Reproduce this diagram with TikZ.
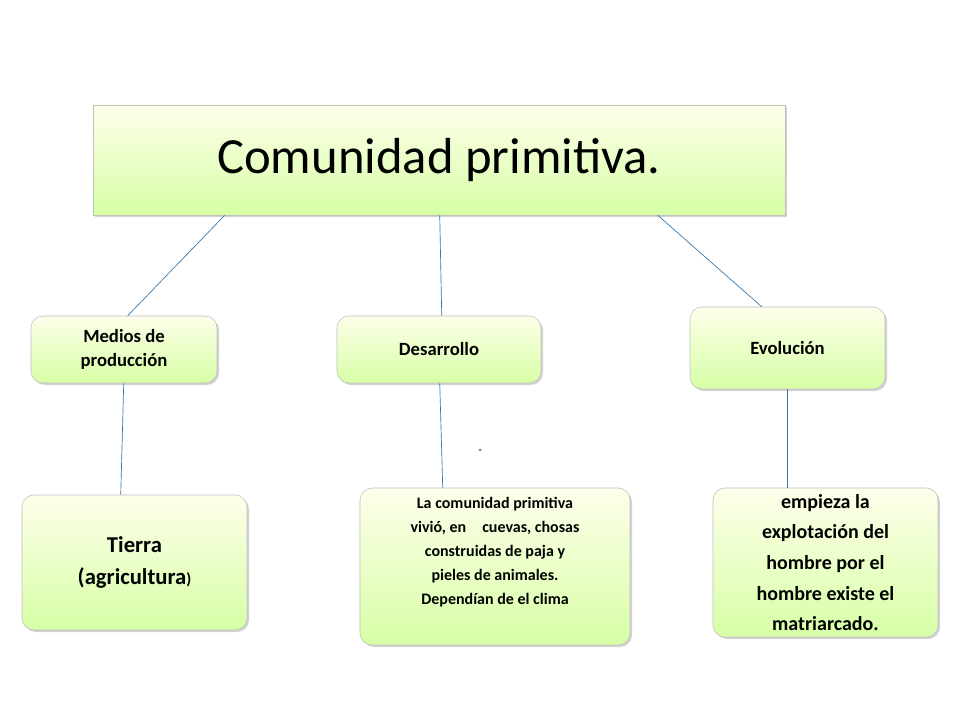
\documentclass[tikz,border=0pt]{standalone}
\usepackage{fontspec}
\setmainfont{Carlito}
\usetikzlibrary{shadows,calc}
\begin{document}
\begin{tikzpicture}[x=0.75pt,y=-0.75pt,
  box/.style={draw=black!25,top color=green!5!yellow!8,bottom color=green!45!yellow!35,
    drop shadow={shadow xshift=1.5pt,shadow yshift=-1.5pt,opacity=0.35},align=center,inner sep=0pt},
  rbox/.style={box,rounded corners=9pt},
  con/.style={draw=blue!45!cyan!60!black!80,line width=0.5pt}]
\useasboundingbox[fill=white] (0,0) rectangle (960,720);
\node[box,minimum width=692*0.75pt,minimum height=110*0.75pt,font=\fontsize{38}{40}\selectfont] (title) at (439,160) {Comunidad primitiva.};
\node[rbox,minimum width=186*0.75pt,minimum height=67*0.75pt,font=\bfseries\fontsize{14}{18}\selectfont] (med) at (124,349.5) {Medios de\\producción};
\node[rbox,minimum width=204*0.75pt,minimum height=67*0.75pt,font=\bfseries\fontsize{14}{18}\selectfont] (des) at (439,349.5) {Desarrollo};
\node[rbox,minimum width=195*0.75pt,minimum height=82*0.75pt,font=\bfseries\fontsize{14}{18}\selectfont] (evo) at (787.5,348) {Evolución};
\node[rbox,minimum width=225*0.75pt,minimum height=135*0.75pt,font=\bfseries\fontsize{17}{24}\selectfont] (tie) at (134.5,562.5) {Tierra\\(agricultura{\fontsize{12}{12}\selectfont)}};
\node[rbox,minimum width=270*0.75pt,minimum height=157*0.75pt,font=\bfseries\fontsize{12}{18}\selectfont] (lac) at (495,566.5) {La comunidad primitiva\\vivió, en\quad cuevas, chosas\\construidas de paja y\\pieles de animales.\\Dependían de el clima\\[6pt]};
\node[rbox,minimum width=225*0.75pt,minimum height=149*0.75pt,font=\bfseries\fontsize{15}{23}\selectfont] (emp) at (825.5,562.5) {empieza la\\explotación del\\hombre por el\\hombre existe el\\matriarcado.};
\draw[con] ($(title.south west)+(132,0)$) -- ($(med.north west)+(97,0)$);
\draw[con] ($(title.south west)+(347,0)$) -- ($(des.north west)+(105,0)$);
\draw[con] ($(title.south west)+(565,0)$) -- ($(evo.north west)+(72,0)$);
\draw[con] ($(med.south west)+(93,0)$) -- ($(tie.north west)+(99,0)$);
\draw[con] ($(des.south west)+(103,0)$) -- ($(lac.north west)+(83,0)$);
\draw[con] ($(evo.south west)+(98,0)$) -- ($(emp.north west)+(75,0)$);
\fill[gray] (480,450) circle (1.5);
\end{tikzpicture}
\end{document}
